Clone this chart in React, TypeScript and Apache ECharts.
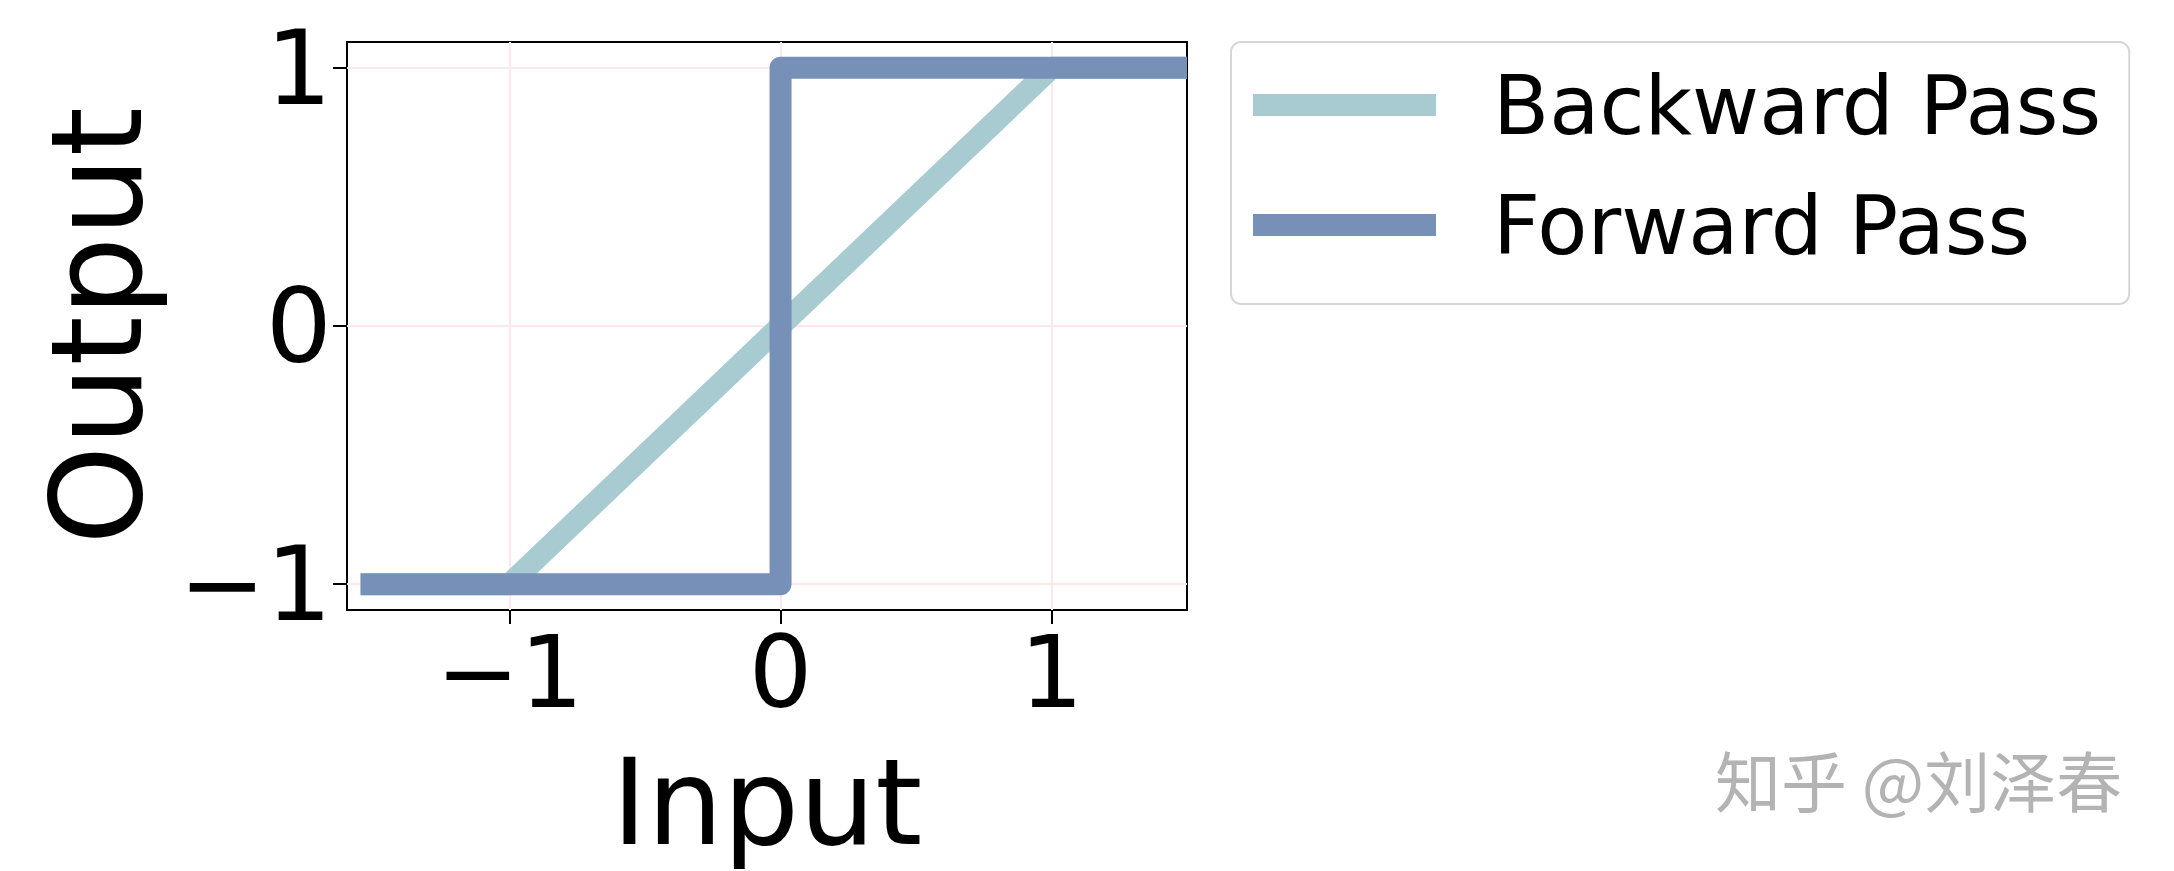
import React, { useEffect, useRef } from "react";
import * as echarts from "echarts";

const seriesNames = ["Backward Pass", "Forward Pass"];
const backwardX = [-1.55, -1, 1, 1.5];
const backwardY = [-1, -1, 1, 1];
const forwardX = [-1.55, 0, 0, 1.5];
const forwardY = [-1, -1, 1, 1];
const xTicks = [-1, 0, 1];
const yTicks = [-1, 0, 1];
const xRange = [-1.6, 1.5];
const yRange = [-1.1, 1.1];
const xTitle = "Input";
const yTitle = "Output";
const watermark = "知乎 @刘泽春";

const FONT = "DejaVu Sans";

export default function App() {
  const ref = useRef<HTMLDivElement>(null);
  useEffect(() => {
    if (!ref.current) return;
    const chart = echarts.init(ref.current, undefined, { renderer: "svg" });
    const fmt = (v: number) => (v < 0 ? "\u2212" + Math.abs(v) : String(v));
    const gridLines = [
      ...xTicks.map((v) => ({ xAxis: v })),
      ...yTicks.map((v) => ({ yAxis: v })),
    ];
    chart.setOption({
      animation: false,
      backgroundColor: "#ffffff",
      grid: {
        left: 347,
        top: 42,
        width: 840,
        height: 568,
        show: true,
        borderColor: "#000",
        borderWidth: 2,
        backgroundColor: "transparent",
      },
      xAxis: {
        type: "value",
        min: xRange[0],
        max: xRange[1],
        name: xTitle,
        nameLocation: "middle",
        nameGap: 142,
        nameTextStyle: { fontSize: 120, lineHeight: 100, fontFamily: FONT, color: "#000" },
        axisLine: { show: true, onZero: false, lineStyle: { color: "#000", width: 2 } },
        axisTick: { show: true, customValues: xTicks, length: 14, lineStyle: { color: "#000", width: 2 } },
        axisLabel: {
          customValues: xTicks,
          formatter: fmt,
          fontSize: 100,
          lineHeight: 80,
          fontFamily: FONT,
          color: "#000",
          margin: 22,
        },
        splitLine: { show: false },
      },
      yAxis: {
        type: "value",
        min: yRange[0],
        max: yRange[1],
        name: yTitle,
        nameLocation: "middle",
        nameRotate: 90,
        nameGap: 187,
        nameTextStyle: { fontSize: 126, fontFamily: FONT, color: "#000" },
        axisLine: { show: true, onZero: false, lineStyle: { color: "#000", width: 2 } },
        axisTick: { show: true, customValues: yTicks, length: 14, lineStyle: { color: "#000", width: 2 } },
        axisLabel: {
          customValues: yTicks,
          formatter: fmt,
          fontSize: 104,
          fontFamily: FONT,
          color: "#000",
          margin: 15,
        },
        splitLine: { show: false },
      },
      legend: {
        orient: "vertical",
        left: 1231,
        top: 42,
        icon: "rect",
        itemWidth: 183,
        itemHeight: 22,
        itemGap: 20,
        padding: [13, 28, 29, 22],
        borderColor: "#d6d6d6",
        borderWidth: 2,
        borderRadius: 10,
        backgroundColor: "#fff",
        data: seriesNames,
        textStyle: {
          fontSize: 82,
          fontFamily: FONT,
          color: "#000",
          lineHeight: 100,
          padding: [0, 0, 0, 52],
        },
      },
      graphic: [
        {
          type: "text",
          left: 1715,
          top: 745,
          style: {
            text: watermark,
            fontSize: 66,
            fontFamily: "Noto Sans CJK SC",
            fill: "#b3b3b3",
          },
        },
      ],
      series: [
        {
          name: seriesNames[0],
          type: "line",
          data: backwardX.map((x, i) => [x, backwardY[i]]),
          symbol: "none",
          color: "#a8cbd2",
          lineStyle: { width: 22, color: "#a8cbd2", cap: "butt", join: "round" },
          z: 2,
          markLine: {
            silent: true,
            symbol: "none",
            z: 1,
            label: { show: false },
            lineStyle: { color: "#f9e9e9", width: 2, type: "solid" },
            data: gridLines,
          },
        },
        {
          name: seriesNames[1],
          type: "line",
          data: forwardX.map((x, i) => [x, forwardY[i]]),
          symbol: "none",
          color: "#7790b8",
          lineStyle: { width: 22, color: "#7790b8", cap: "butt", join: "round" },
          z: 3,
        },
      ],
    });
    return () => chart.dispose();
  }, []);
  return (
    <div
      ref={ref}
      style={{ position: "fixed", left: 0, top: 0, width: 2174, height: 871 }}
    />
  );
}
